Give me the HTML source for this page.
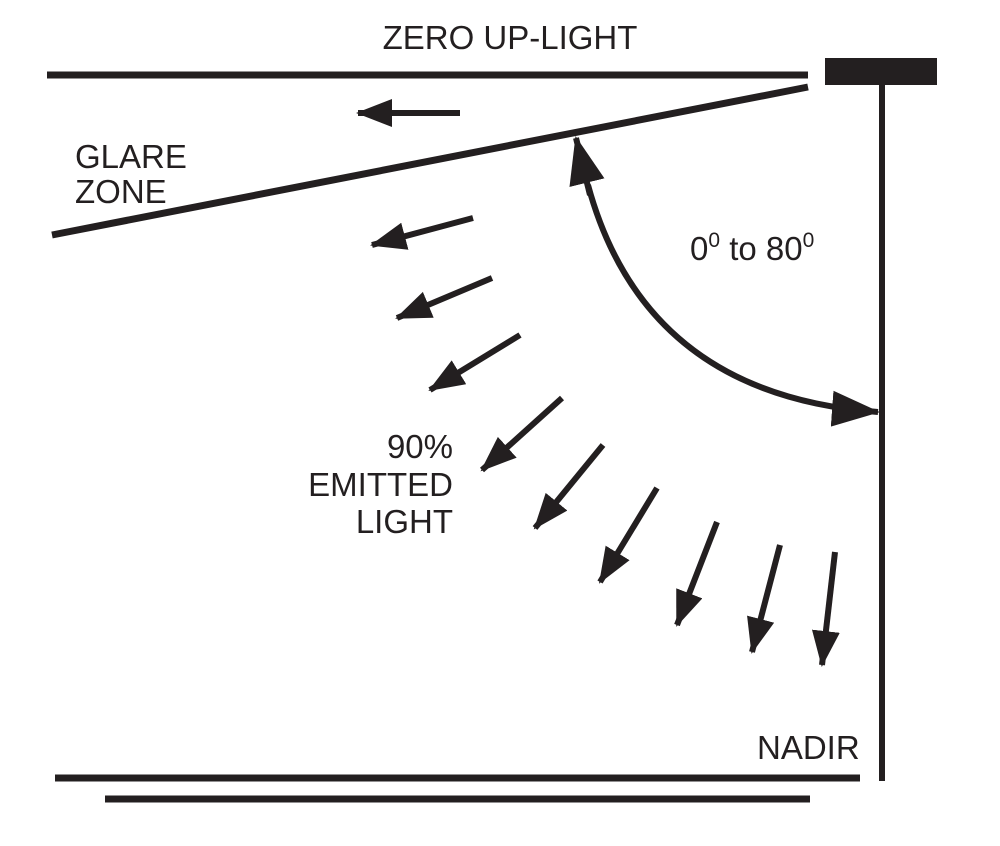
<!DOCTYPE html>
<html><head><style>
html,body{margin:0;padding:0;background:#fff;}
svg{display:block;}
text{font-family:"Liberation Sans",Arial,sans-serif;fill:#231f20;font-size:33px;}
</style></head><body>
<svg width="1000" height="846" viewBox="0 0 1000 846" xmlns="http://www.w3.org/2000/svg">
<defs>
<marker id="ah" markerUnits="userSpaceOnUse" markerWidth="40" markerHeight="32" refX="34" refY="14" orient="auto">
<path d="M0,0 L36,14 L0,28 Z" fill="#231f20"/>
</marker>
<marker id="bh" markerUnits="userSpaceOnUse" markerWidth="52" markerHeight="40" refX="46" refY="18" orient="auto">
<path d="M0,0 L48,18 L0,36 Z" fill="#231f20"/>
</marker>
</defs>
<g stroke="#231f20" fill="none">
<line x1="47" y1="75" x2="808" y2="75" stroke-width="7"/>
<rect x="825" y="58" width="112" height="27" fill="#231f20" stroke="none"/>
<line x1="882" y1="85" x2="882" y2="781" stroke-width="6"/>
<line x1="808" y1="87" x2="52" y2="235" stroke-width="7"/>
<line x1="55" y1="778" x2="860" y2="778" stroke-width="7"/>
<line x1="105" y1="799" x2="810" y2="799" stroke-width="7"/>
<path d="M588,185 Q645,395 878,412" stroke-width="6" marker-end="url(#bh)"/>
<path d="M590,195 L576,138" stroke-width="6" marker-end="url(#bh)"/>
<g stroke-width="6" marker-end="url(#ah)">
<line x1="460" y1="113" x2="358" y2="113"/>
<line x1="473" y1="218" x2="372" y2="245"/>
<line x1="492" y1="278" x2="397" y2="318"/>
<line x1="520" y1="335" x2="430" y2="390"/>
<line x1="562" y1="398" x2="482" y2="470"/>
<line x1="603" y1="445" x2="535" y2="528"/>
<line x1="657" y1="488" x2="600" y2="582"/>
<line x1="717" y1="522" x2="677" y2="625"/>
<line x1="780" y1="545" x2="752" y2="652"/>
<line x1="835" y1="552" x2="822" y2="665"/>
</g>
</g>
<text x="510" y="49" text-anchor="middle">ZERO UP-LIGHT</text>
<text x="75" y="168">GLARE</text>
<text x="75" y="203">ZONE</text>
<text x="690" y="260">0<tspan font-size="21" dy="-13">0</tspan><tspan dy="13"> to 80</tspan><tspan font-size="21" dy="-13">0</tspan></text>
<text x="453" y="458" text-anchor="end">90%</text>
<text x="453" y="496" text-anchor="end">EMITTED</text>
<text x="453" y="533" text-anchor="end">LIGHT</text>
<text x="757" y="759">NADIR</text>
</svg>
</body></html>
